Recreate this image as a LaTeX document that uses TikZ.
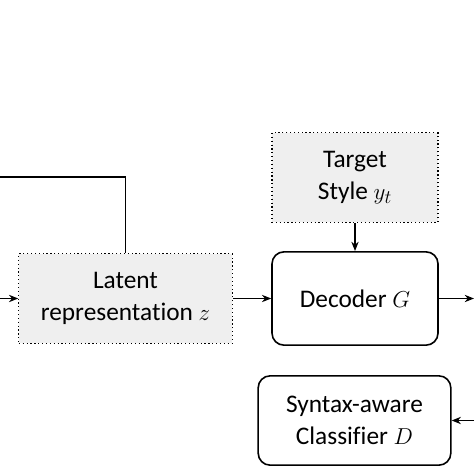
\documentclass[tikz,border=0pt]{standalone}
\usepackage{fontspec}
\setmainfont[Ligatures=NoCommon]{Carlito}
\usetikzlibrary{arrows.meta}
\definecolor{boxgray}{RGB}{239,239,239}
\tikzset{every picture/.style={line width=0.75pt}}

\begin{document}
\begin{tikzpicture}[x=0.75pt,y=0.75pt,yscale=-1,xscale=1,
	dotbox/.style={draw, dotted, line width=0.9pt, fill=boxgray, align=center, inner sep=0pt},
	roundbox/.style={draw, rounded corners=9pt, line width=1.2pt, align=center, inner sep=0pt},
	link/.style={line width=0.9pt, -{Stealth[length=7pt,width=5.5pt]}}]
	\useasboundingbox (0,0) rectangle (474,474);
	\fontsize{19}{24}\selectfont

	% Boxes
	\node [dotbox, minimum width=160pt, minimum height=67pt] (latent) at (125.5,298.5) {Latent\\representation $z$};
	\node [dotbox, minimum width=124.5pt, minimum height=67pt] (target) at (355,177.5) {Target\\Style $y_t$};
	\node [roundbox, minimum width=124.5pt, minimum height=70pt] (decoder) at (355,298.5) {Decoder $G$};
	\node [roundbox, minimum width=144.5pt, minimum height=67pt] (classifier) at (354.5,420.5) {Syntax-aware\\Classifier $D$};

	% Free ends
	\coordinate (in) at (0,298.5);
	\coordinate (back) at (0,177);
	\coordinate (out) at (474,298.5);
	\coordinate (in2) at (474,420.5);

	% Connectors
	\draw [link] (in) -- (latent.west);
	\draw [line width=0.9pt] (latent.north) |- (back);
	\draw [link] (latent.east) -- (decoder.west);
	\draw [link] (target.south) -- (decoder.north);
	\draw [link] (decoder.east) -- (out);
	\draw [link] (in2) -- (classifier.east);

\end{tikzpicture}
\end{document}
